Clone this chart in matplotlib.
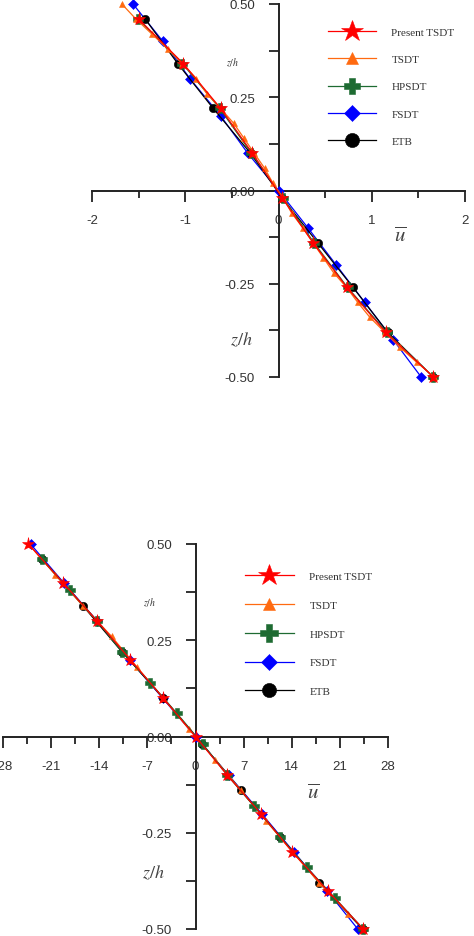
import matplotlib
matplotlib.use("Agg")
import matplotlib.pyplot as plt
from matplotlib.ticker import MultipleLocator, FixedLocator

plt.rcParams['font.family'] = ['Liberation Sans', 'DejaVu Sans']
plt.rcParams['mathtext.fontset'] = 'stix'

labels = ["Present TSDT", "TSDT", "HPSDT", "FSDT", "ETB"]

# ---------------- top panel data ----------------
z_a = [0.46, 0.34, 0.22, 0.10, -0.02, -0.14, -0.26, -0.38, -0.50]
top_present = [-1.50, -1.02, -0.62, -0.28, 0.04, 0.37, 0.735, 1.15, 1.66]
top_hpsdt = [-1.51, -1.03, -0.63, -0.29, 0.05, 0.38, 0.74, 1.16, 1.66]
top_etb = [-1.43, -1.08, -0.70, -0.30, 0.04, 0.42, 0.80, 1.17, 1.66]
z_b = [0.5, 0.4, 0.3, 0.2, 0.1, 0.0, -0.1, -0.2, -0.3, -0.4, -0.5]
top_fsdt = [-1.56, -1.24, -0.95, -0.62, -0.33, 0.0, 0.315, 0.62, 0.925, 1.23, 1.53]
z_c = [0.50, 0.46, 0.42, 0.38, 0.34, 0.30, 0.26, 0.22, 0.18, 0.14, 0.10, 0.06, 0.02,
       -0.02, -0.06, -0.10, -0.14, -0.18, -0.22, -0.26, -0.30, -0.34, -0.38, -0.42, -0.46, -0.50]
top_tsdt = [-1.68, -1.53, -1.36, -1.19, -1.03, -0.88, -0.77, -0.62, -0.48, -0.37, -0.26, -0.15, -0.06,
            0.05, 0.14, 0.26, 0.37, 0.48, 0.59, 0.73, 0.85, 0.98, 1.14, 1.30, 1.48, 1.67]

# ---------------- bottom panel data ----------------
z_d = [0.5, 0.4, 0.3, 0.2, 0.1, 0.0, -0.1, -0.2, -0.3, -0.4, -0.5]
bot_present = [-24.3, -19.3, -14.3, -9.5, -4.7, 0.0, 4.6, 9.5, 14.1, 19.2, 24.4]
bot_fsdt = [-24.0, -19.2, -14.3, -9.6, -4.8, 0.0, 4.8, 9.6, 14.3, 19.1, 23.6]
z_e = [0.50, 0.42, 0.34, 0.26, 0.18, 0.10, 0.02, -0.06, -0.14, -0.22, -0.30, -0.38, -0.46]
bot_tsdt = [-24.3, -20.4, -16.4, -12.2, -8.5, -4.7, -1.0, 2.86, 6.63, 10.3, 14.1, 18.0, 22.25]
z_f = [0.46, 0.38, 0.30, 0.22, 0.14, 0.06, -0.02, -0.10, -0.18, -0.26, -0.34, -0.42, -0.50]
bot_hpsdt = [-22.3, -18.3, -14.3, -10.7, -6.6, -2.7, 1.06, 4.6, 8.46, 12.3, 16.2, 20.3, 24.4]
z_g = [0.46, 0.34, 0.22, 0.10, -0.02, -0.14, -0.26, -0.38, -0.50]
bot_etb = [-22.3, -16.4, -10.7, -4.7, 1.0, 6.63, 12.3, 18.0, 24.3]

top_xticks = [-2, -1, 0, 1, 2]
bot_xticks = [-28, -21, -14, -7, 0, 7, 14, 21, 28]
yticks = [0.50, 0.25, 0.00, -0.25, -0.50]

RED = '#ff0000'
ORANGE = '#ff6a10'
GREEN = '#1e6b32'
BLUE = '#0000ff'
BLACK = '#000000'
TXT = '#333333'

fig = plt.figure(figsize=(4.74, 9.37), dpi=100)

def style_axes(ax, xlim, xmajor, xminor, xticklabels):
    ax.set_xlim(*xlim)
    ax.set_ylim(-0.5, 0.5)
    for s in ['top', 'right']:
        ax.spines[s].set_visible(False)
    ax.spines['left'].set_position(('data', 0))
    ax.spines['bottom'].set_position(('data', 0))
    for s in ['left', 'bottom']:
        ax.spines[s].set_linewidth(1.4)
        ax.spines[s].set_color('#222222')
    ax.xaxis.set_major_locator(FixedLocator(xmajor))
    ax.xaxis.set_minor_locator(MultipleLocator(xminor))
    ax.set_xticklabels(xticklabels)
    ax.yaxis.set_major_locator(FixedLocator(yticks))
    ax.yaxis.set_minor_locator(MultipleLocator(0.125))
    ax.set_yticklabels(['%.2f' % v for v in yticks])
    ax.tick_params(axis='y', which='both', direction='out', length=7, width=1.3,
                   color='#222222', labelsize=9.5, labelcolor=TXT, pad=10)
    ax.tick_params(axis='x', which='major', direction='out', length=8, width=1.3,
                   color='#222222', labelsize=9.5, labelcolor=TXT, pad=9)
    ax.tick_params(axis='x', which='minor', direction='out', length=5, width=1.3,
                   color='#222222')
    ax.patch.set_alpha(0)

def plot_series(ax, series):
    handles = []
    for (x, z, col, mk, ms, zo, lab) in series:
        h, = ax.plot(x, z, color=col, marker=mk, markersize=ms, lw=0.9,
                     markeredgewidth=0.4, markeredgecolor=col, zorder=zo,
                     clip_on=False, label=lab)
        handles.append(h)
    return handles

# ---------------- top panel ----------------
ax1 = fig.add_axes([92 / 474, 1 - 378 / 937, 373 / 474, 373 / 937])
style_axes(ax1, (-2, 2), top_xticks, 0.5, [str(v) for v in top_xticks])
h_top = plot_series(ax1, [
    (top_fsdt, z_b, BLUE, 'D', 5, 3, labels[3]),
    (top_etb, z_a, BLACK, 'o', 6, 4, labels[4]),
    (top_hpsdt, z_a, GREEN, 'P', 7, 5, labels[2]),
    (top_tsdt, z_c, ORANGE, '^', 5, 6, labels[1]),
    (top_present, z_a, RED, '*', 9.5, 7, labels[0]),
])
order = [4, 3, 2, 0, 1]
leg1 = ax1.legend([h_top[i] for i in order], labels, loc='upper left',
                  bbox_to_anchor=(328 / 474, 1 - 28 / 937), bbox_transform=fig.transFigure,
                  frameon=False, handlelength=4.3, handletextpad=1.4, labelspacing=1.58,
                  borderpad=0, borderaxespad=0, markerscale=1.7,
                  prop={'family': 'Liberation Serif', 'size': 8})
for t in leg1.get_texts():
    t.set_color(TXT)

# ---------------- bottom panel ----------------
ax2 = fig.add_axes([3 / 474, 1 - 930 / 937, 385 / 474, 385 / 937])
style_axes(ax2, (-28, 28), bot_xticks, 3.5, [str(v) for v in bot_xticks])
h_bot = plot_series(ax2, [
    (bot_fsdt, z_d, BLUE, 'D', 5, 3, labels[3]),
    (bot_etb, z_g, BLACK, 'o', 6, 4, labels[4]),
    (bot_tsdt, z_e, ORANGE, '^', 5, 5, labels[1]),
    (bot_hpsdt, z_f, GREEN, 'P', 7.5, 6, labels[2]),
    (bot_present, z_d, RED, '*', 9.5, 7, labels[0]),
])
order2 = [4, 2, 3, 0, 1]
leg2 = ax2.legend([h_bot[i] for i in order2], labels, loc='upper left',
                  bbox_to_anchor=(245 / 474, 1 - 572 / 937), bbox_transform=fig.transFigure,
                  frameon=False, handlelength=4.4, handletextpad=1.4, labelspacing=1.72,
                  borderpad=0, borderaxespad=0, markerscale=1.7,
                  prop={'family': 'Liberation Serif', 'size': 8})
for t in leg2.get_texts():
    t.set_color(TXT)

# ---------------- axis labels ----------------
fig.text(233 / 474, 1 - 63 / 937, r'$z/h$', ha='center', va='center', fontsize=7, color=TXT)
fig.text(241 / 474, 1 - 340 / 937, r'$z/h$', ha='center', va='center', fontsize=13, color='#444444')
fig.text(400 / 474, 1 - 236 / 937, r'$\overline{u}$', ha='center', va='center', fontsize=15, color='#444444')
fig.text(150 / 474, 1 - 603 / 937, r'$z/h$', ha='center', va='center', fontsize=7, color=TXT)
fig.text(153 / 474, 1 - 873 / 937, r'$z/h$', ha='center', va='center', fontsize=13, color='#444444')
fig.text(313 / 474, 1 - 793 / 937, r'$\overline{u}$', ha='center', va='center', fontsize=15, color='#444444')

fig.savefig('out.png', dpi=100)
